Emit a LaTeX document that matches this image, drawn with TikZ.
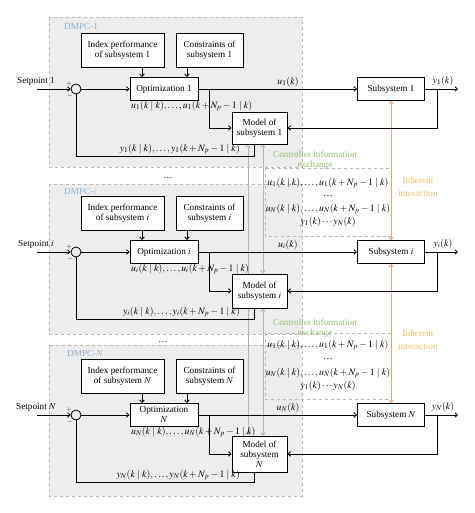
\documentclass[tikz,border=0pt]{standalone}
\usepackage{mathptmx}
\usepackage{fontspec}
\setmainfont{Liberation Serif}
\usetikzlibrary{arrows.meta,calc}
\definecolor{dfill}{HTML}{EDEDED}
\definecolor{ddash}{HTML}{B8B8B8}
\definecolor{dlbl}{HTML}{8DB3D6}
\definecolor{bline}{HTML}{9CBAD8}
\definecolor{gtext}{HTML}{8CC06A}
\definecolor{oline}{HTML}{E9A77D}
\definecolor{itext}{HTML}{EBC45E}
\newcommand\fs{\fontsize{9.2}{10}\selectfont}
\newcommand\fm{\fontsize{9.8}{10}\selectfont}
\pgfdeclarelayer{bg}
\pgfsetlayers{bg,main}
\tikzset{
  blk/.style={draw, line width=0.9pt, fill=white, align=center, inner sep=1pt, font=\fs},
  arr/.style={-{Straight Barb[length=2.5pt,width=4.5pt]}, line width=0.8pt},
  darr/.style={{Straight Barb[length=2.5pt,width=4.5pt]}-{Straight Barb[length=2.5pt,width=4.5pt]}, line width=0.9pt},
  ln/.style={line width=0.8pt},
  lbl/.style={font=\fs, inner sep=1pt},
  mlbl/.style={font=\fm, inner sep=1pt},
  dmpcbox/.style={draw=ddash, dashed, fill=dfill, line width=0.7pt},
  xbox/.style={draw=ddash, dashed, line width=0.7pt},
}
\newcommand\dmpcrow[6]{%
\begin{scope}[yshift=-#1pt]
  \node[blk, minimum width=83pt, minimum height=34pt] (idx#2) at (122.5,50) {Index performance\\of subsystem $#3$};
  \node[blk, minimum width=67pt, minimum height=34pt] (con#2) at (209.5,50) {Constraints of\\subsystem $#3$};
  \node[blk, minimum width=68pt, minimum height=23pt] (opt#2) at (164,89) {#4};
  \node[blk, minimum width=67pt, minimum height=23pt] (sub#2) at (391,89) {Subsystem $#3$};
  \node[blk, minimum width=55pt, minimum height=#6] (mod#2) at (259.5,128) {#5};
  \node[draw, circle, ln, minimum size=10pt, inner sep=0pt] (sum#2) at (76,89) {};
  \coordinate (sp#2) at (37,89);
  \coordinate (b#2) at (209,89);
  \coordinate (c#2) at (437,89);
  \coordinate (o#2) at (458,89);
  \coordinate (f#2) at (254,156);
  \node[lbl, anchor=south] at (36,87) {Setpoint $#3$};
  \node[font=\fontsize{7}{7}\selectfont, inner sep=0pt] at (69,84) {$+$};
  \node[font=\fontsize{7}{7}\selectfont, inner sep=0pt] at (70,96) {$-$};
  \draw[arr] (sp#2) -- (sum#2.west);
  \draw[arr] (sum#2.east) -- (opt#2.west);
  \draw[arr] (opt#2.east) -- (sub#2.west);
  \draw[arr] (sub#2.east) -- (o#2);
  \draw[arr] (b#2) |- (mod#2.west);
  \draw[arr] (c#2) |- (mod#2.east);
  \draw[ln] (mod#2.south -| f#2) -- (f#2) -| (sum#2.south);
  \draw[arr] ([xshift=19.5pt]idx#2.south) -- ([xshift=19.5pt]idx#2.south |- opt#2.north);
  \draw[arr] ([xshift=-22.5pt]con#2.south) -- ([xshift=-22.5pt]con#2.south |- opt#2.north);
  \node[mlbl] at (288,82) {$u_{#3}(k)$};
  \node[mlbl] at (443,81) {$y_{#3}(k)$};
  \node[mlbl, anchor=west] at (130,106) {$u_{#3}(k\mid k),\ldots,u_{#3}(k+N_p-1\mid k)$};
  \node[mlbl, anchor=east] at (241,149) {$y_{#3}(k\mid k),\ldots,y_{#3}(k+N_p-1\mid k)$};
\end{scope}}
\begin{document}
\begin{tikzpicture}[x=1pt,y=-1pt]
  \useasboundingbox (0,0) rectangle (474,513);
  \dmpcrow{0}{a}{1}{Optimization 1}{Model of\\subsystem 1}{32pt}
  \dmpcrow{163}{b}{i}{Optimization $i$}{Model of\\subsystem $i$}{34pt}
  \dmpcrow{326}{c}{N}{Optimization\\$N$}{Model of\\subsystem\\$N$}{36pt}
  \begin{pgfonlayer}{bg}
    \draw[dmpcbox] (49,17) rectangle (302,167);
    \draw[dmpcbox] (49,184) rectangle (302,334);
    \draw[dmpcbox] (49,345) rectangle (302,496);
    \draw[xbox] (265,168) rectangle (391,236);
    \draw[xbox] (265,333) rectangle (391,399);
    \draw[darr, bline] ($(moda.south)+(-11.5,0)$) -- ($(modc.north)+(-11.5,0)$);
    \draw[darr, bline] ($(moda.south)+(3.5,0)$) -- ($(modb.north)+(3.5,0)$);
    \draw[darr, bline] ($(modb.south)+(3.5,0)$) -- ($(modc.north)+(3.5,0)$);
    \draw[darr, oline] (suba.south) -- (subb.north);
    \draw[darr, oline] (subb.south) -- (subc.north);
  \end{pgfonlayer}
  \node[lbl, anchor=west, text=dlbl] (la) at (63,27) {DMPC-1};
  \node[lbl, anchor=west, text=dlbl] (lb) at (63,192) {DMPC-$i$};
  \node[lbl, anchor=west, text=dlbl] (lc) at (66,354) {DMPC-$N$};
  \node[lbl] (d1) at (168,178) {\ldots};
  \node[lbl] (d2) at (163,342) {\ldots};
  \node[lbl, text=gtext, align=center] (g1) at (315,160.5) {Controller information\\exchange};
  \node[lbl, text=gtext, align=center] (g2) at (315,328) {Controller information\\exchange};
  \node[lbl, text=itext, align=center, font=\fontsize{9.2}{13}\selectfont] (h1) at (418,186.5) {Inherent\\interaction};
  \node[lbl, text=itext, align=center, font=\fontsize{9.2}{13}\selectfont] (h2) at (418,339.5) {Inherent\\interaction};
  \node[mlbl] (e1) at (328,183) {$u_1(k\mid k),\ldots,u_1(k+N_p-1\mid k)$};
  \node[mlbl] (e2) at (328,196) {\ldots};
  \node[mlbl] (e3) at (328,209) {$u_N(k\mid k),\ldots,u_N(k+N_p-1\mid k)$};
  \node[mlbl] (e4) at (328,222) {$y_1(k)\cdots y_N(k)$};
  \node[mlbl] (e5) at (328,345) {$u_1(k\mid k),\ldots,u_1(k+N_p-1\mid k)$};
  \node[mlbl] (e6) at (328,359) {\ldots};
  \node[mlbl] (e7) at (328,373) {$u_N(k\mid k),\ldots,u_N(k+N_p-1\mid k)$};
  \node[mlbl] (e8) at (328,386) {$y_1(k)\cdots y_N(k)$};
\end{tikzpicture}
\end{document}
